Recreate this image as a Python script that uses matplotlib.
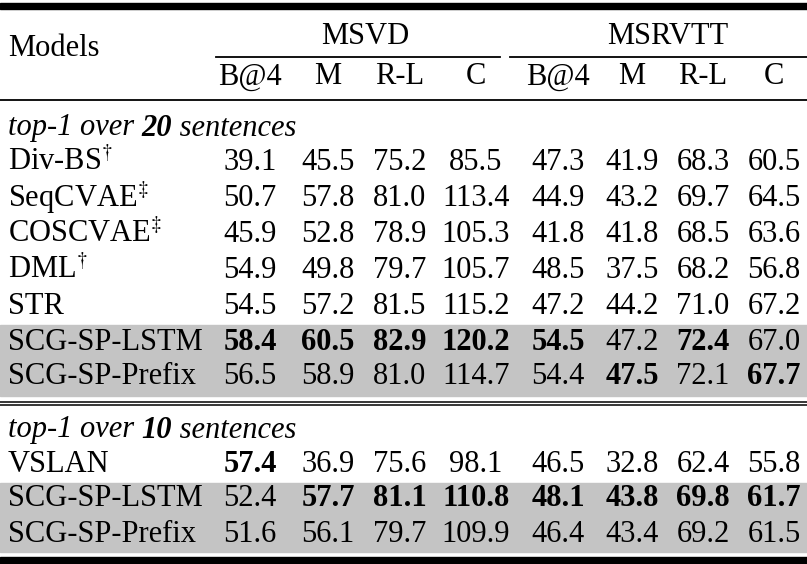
import matplotlib
matplotlib.use("Agg")
import matplotlib.pyplot as plt
from matplotlib.patches import Rectangle

plt.rcParams['font.family'] = ['Liberation Serif', 'DejaVu Serif']
plt.rcParams['mathtext.fontset'] = 'stix'

metrics = ["B@4", "M", "R-L", "C", "B@4", "M", "R-L", "C"]
datasets = ["MSVD", "MSRVTT"]

models_20 = ["Div-BS$^{\\dagger}$", "SeqCVAE$^{\\ddagger}$", "COSCVAE$^{\\ddagger}$",
             "DML$^{\\dagger}$", "STR", "SCG-SP-LSTM", "SCG-SP-Prefix"]
values_20 = [
    ["39.1", "45.5", "75.2", "85.5", "47.3", "41.9", "68.3", "60.5"],
    ["50.7", "57.8", "81.0", "113.4", "44.9", "43.2", "69.7", "64.5"],
    ["45.9", "52.8", "78.9", "105.3", "41.8", "41.8", "68.5", "63.6"],
    ["54.9", "49.8", "79.7", "105.7", "48.5", "37.5", "68.2", "56.8"],
    ["54.5", "57.2", "81.5", "115.2", "47.2", "44.2", "71.0", "67.2"],
    ["58.4", "60.5", "82.9", "120.2", "54.5", "47.2", "72.4", "67.0"],
    ["56.5", "58.9", "81.0", "114.7", "54.4", "47.5", "72.1", "67.7"],
]
bold_20 = [
    [0]*8, [0]*8, [0]*8, [0]*8, [0]*8,
    [1, 1, 1, 1, 1, 0, 1, 0],
    [0, 0, 0, 0, 0, 1, 0, 1],
]

models_10 = ["VSLAN", "SCG-SP-LSTM", "SCG-SP-Prefix"]
values_10 = [
    ["57.4", "36.9", "75.6", "98.1", "46.5", "32.8", "62.4", "55.8"],
    ["52.4", "57.7", "81.1", "110.8", "48.1", "43.8", "69.8", "61.7"],
    ["51.6", "56.1", "79.7", "109.9", "46.4", "43.4", "69.2", "61.5"],
]
bold_10 = [
    [1, 0, 0, 0, 0, 0, 0, 0],
    [0, 1, 1, 1, 1, 1, 1, 1],
    [0]*8,
]

W, H = 807, 564
fig = plt.figure(figsize=(W/100, H/100), dpi=100)
ax = fig.add_axes([0, 0, 1, 1])
ax.set_xlim(0, W)
ax.set_ylim(H, 0)
ax.axis('off')

FS = 22
col_x = [250, 328, 400, 476, 558, 632, 703, 774]
gray = '#c4c4c4'

ax.add_patch(Rectangle((0, 3), W, 6, color='black'))
ax.plot([216, 500], [57, 57], color='black', lw=1.3)
ax.plot([510, W], [57, 57], color='black', lw=1.3)
ax.plot([0, W], [100, 100], color='black', lw=1.3)
ax.plot([0, W], [401.5, 401.5], color='black', lw=1.1)
ax.plot([0, W], [404.5, 404.5], color='black', lw=1.1)
ax.add_patch(Rectangle((0, 557), W, 7, color='black'))

ax.text(8, 48, "Models", fontsize=FS, va='center', ha='left')
ax.text(365, 36, datasets[0], fontsize=FS, va='center', ha='center')
ax.text(668, 36, datasets[1], fontsize=FS, va='center', ha='center')
for x, m in zip(col_x, metrics):
    ax.text(x, 77, m, fontsize=FS, va='center', ha='center')

fig.canvas.draw()
renderer = fig.canvas.get_renderer()

def section_title(y, num):
    x = 8
    for txt, wt in [("top-1 over ", 'normal'), (num, 'bold'), (" sentences", 'normal')]:
        t = ax.text(x, y, txt, fontsize=FS, va='center', ha='left', style='italic', weight=wt)
        x += t.get_window_extent(renderer=renderer).width

def rows(names, vals, bolds, ys):
    for name, v, b, y in zip(names, vals, bolds, ys):
        ax.text(8, y, name, fontsize=FS, va='center', ha='left')
        for x, s, bb in zip(col_x, v, b):
            ax.text(x, y, s, fontsize=FS, va='center', ha='center',
                    weight='bold' if bb else 'normal')

ax.add_patch(Rectangle((0, 325), W, 71, color=gray, zorder=0))
ax.add_patch(Rectangle((0, 483), W, 69, color=gray, zorder=0))

section_title(128, "20")
rows(models_20, values_20, bold_20, [162, 198, 234, 270, 306, 342, 377])
section_title(430, "10")
rows(models_10, values_10, bold_10, [465, 499, 534])

fig.savefig("out.png", dpi=100)
